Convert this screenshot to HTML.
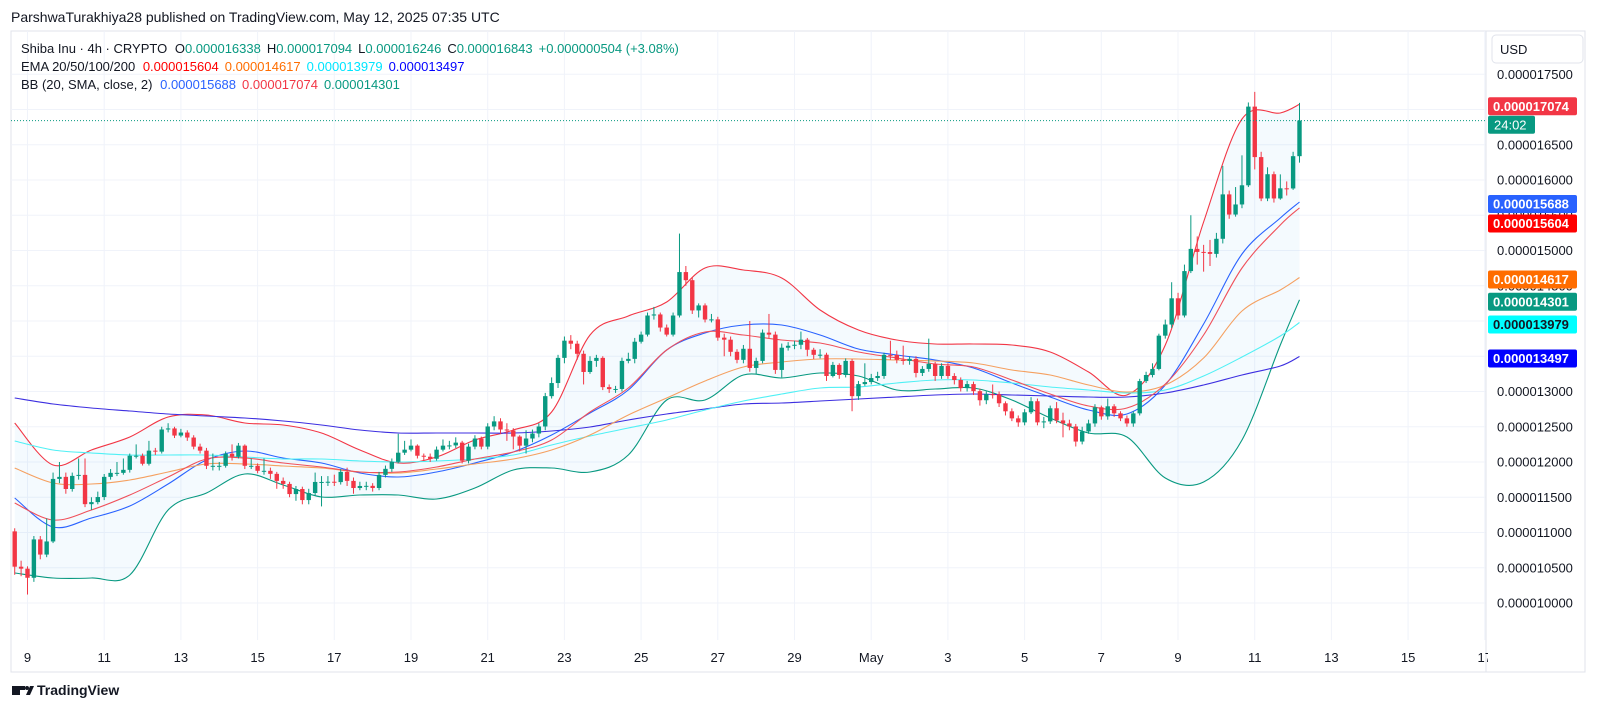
<!DOCTYPE html>
<html><head><meta charset="utf-8"><style>
html,body{margin:0;padding:0;background:#fff;}
svg{display:block;font-family:"Liberation Sans",Arial,sans-serif;}
</style></head><body>
<svg id="chart" width="1600" height="712" viewBox="0 0 1600 712" xmlns="http://www.w3.org/2000/svg">
<text x="11" y="22" font-size="14" fill="#131722">ParshwaTurakhiya28 published on TradingView.com, May 12, 2025 07:35 UTC</text>
<rect x="11" y="31" width="1574" height="641" fill="none" stroke="#e0e3eb" stroke-width="1"/>
<g id="grid"></g>
<g id="plot" clip-path="url(#clip)"></g>
<defs><clipPath id="clip"><rect x="11" y="31" width="1475" height="609"/></clipPath>
<clipPath id="xclip"><rect x="11" y="640" width="1477" height="32"/></clipPath></defs>
<line x1="1486" y1="31" x2="1486" y2="672" stroke="#e0e3eb"/>
<g id="yaxis"></g>
<g id="xaxis" clip-path="url(#xclip)"></g>
<g id="labels"></g>
<rect x="1492" y="35" width="91" height="28" rx="4" fill="#fff" stroke="#e0e3eb"/>
<text x="1500" y="54" font-size="13" fill="#131722">USD</text>
<g font-size="13">
<text x="21" y="53" fill="#131722">Shiba Inu · 4h · CRYPTO <tspan dx="4">O</tspan><tspan fill="#089981">0.000016338</tspan><tspan dx="6">H</tspan><tspan fill="#089981">0.000017094</tspan><tspan dx="6">L</tspan><tspan fill="#089981">0.000016246</tspan><tspan dx="6">C</tspan><tspan fill="#089981">0.000016843</tspan><tspan dx="6" fill="#089981">+0.000000504 (+3.08%)</tspan></text>
<text x="21" y="71" fill="#131722">EMA 20/50/100/200 <tspan dx="4" fill="#ff0000">0.000015604</tspan><tspan dx="6" fill="#ff6d00">0.000014617</tspan><tspan dx="6" fill="#00e5ff">0.000013979</tspan><tspan dx="6" fill="#0000ff">0.000013497</tspan></text>
<text x="21" y="89" fill="#131722">BB (20, SMA, close, 2) <tspan dx="4" fill="#2962ff">0.000015688</tspan><tspan dx="6" fill="#f23645">0.000017074</tspan><tspan dx="6" fill="#089981">0.000014301</tspan></text>
</g>
<g>
<rect x="12" y="686" width="8" height="9" fill="#131722"/><rect x="12" y="686" width="13" height="4" fill="#131722"/>
<circle cx="27" cy="688" r="2" fill="#131722"/><polygon points="26,695 30,686 34,686 30,695" fill="#131722"/>
<text x="37" y="695" font-size="14" font-weight="bold" fill="#131722">TradingView</text>
</g>
</svg>
<script>
const firstOpen = 11.016;
const closes = [10.515,10.487,10.358,10.902,10.687,10.873,11.760,11.789,11.617,11.803,11.817,11.402,11.431,11.503,11.789,11.846,11.846,11.889,12.089,12.089,11.975,12.161,12.147,12.461,12.476,12.375,12.418,12.347,12.218,12.161,11.946,11.946,11.946,12.118,12.075,12.232,11.946,11.946,11.875,11.875,11.832,11.732,11.689,11.545,11.617,11.460,11.560,11.717,11.717,11.720,11.715,11.860,11.732,11.631,11.660,11.662,11.631,11.817,11.903,12.003,12.132,12.175,12.232,12.089,12.075,12.046,12.175,12.232,12.235,12.275,12.018,12.218,12.333,12.218,12.504,12.576,12.461,12.447,12.361,12.232,12.333,12.404,12.504,12.934,13.120,13.477,13.721,13.678,13.535,13.277,13.434,13.477,13.062,13.034,13.036,13.434,13.463,13.706,13.807,14.078,14.093,13.907,13.807,14.078,14.694,14.579,14.150,14.221,14.021,14.023,13.764,13.735,13.563,13.449,13.606,13.334,13.434,13.835,13.807,13.306,13.621,13.649,13.663,13.735,13.592,13.520,13.522,13.220,13.377,13.234,13.434,12.934,13.105,13.134,13.191,13.220,13.520,13.518,13.449,13.434,13.463,13.263,13.320,13.392,13.220,13.363,13.220,13.163,13.048,13.105,13.005,12.876,12.962,12.960,12.833,12.719,12.619,12.562,12.705,12.862,12.562,12.576,12.762,12.590,12.547,12.504,12.290,12.433,12.547,12.776,12.647,12.790,12.690,12.619,12.547,12.690,13.148,13.234,13.320,13.792,13.950,14.322,14.078,14.708,15.023,14.980,14.978,14.952,15.166,15.796,15.510,15.653,15.925,17.041,16.325,15.738,16.082,15.738,15.882,15.880,16.338,16.843];
const highs = [11.06,10.60,10.52,10.95,10.95,11.20,11.85,12.00,11.85,11.85,12.05,12.05,11.50,11.58,11.83,11.90,12.00,12.05,12.12,12.25,12.12,12.30,12.20,12.50,12.55,12.50,12.47,12.45,12.38,12.26,12.20,12.12,12.00,12.15,12.25,12.27,12.25,12.05,11.98,12.05,11.92,11.86,11.78,11.72,11.66,11.65,11.62,11.85,11.80,11.80,11.82,11.90,11.92,11.78,11.72,11.72,11.70,11.86,11.95,12.05,12.40,12.30,12.32,12.25,12.12,12.12,12.22,12.32,12.30,12.35,12.30,12.26,12.38,12.36,12.55,12.65,12.62,12.55,12.48,12.38,12.45,12.46,12.55,12.98,13.20,13.52,13.78,13.80,13.72,13.58,13.50,13.52,13.50,13.10,13.08,13.48,13.55,13.76,13.85,14.12,14.20,14.12,13.95,14.12,15.24,14.78,14.62,14.25,14.25,14.10,14.06,13.82,13.78,13.60,13.66,14.00,13.48,13.88,14.10,13.85,13.68,13.70,13.72,13.85,13.76,13.62,13.60,13.55,13.42,13.40,13.47,13.46,13.15,13.40,13.25,13.28,13.55,13.72,13.58,13.65,13.50,13.50,13.36,13.75,13.42,13.40,13.40,13.26,13.20,13.15,13.14,13.04,13.00,13.10,13.00,12.86,12.76,12.66,12.75,12.92,12.90,12.64,12.80,12.85,12.70,12.60,12.54,12.50,12.60,12.82,12.80,12.90,12.82,12.72,12.66,12.72,13.18,13.28,13.40,13.82,14.02,14.55,14.40,14.80,15.50,15.20,15.08,15.15,15.25,16.20,15.85,15.90,16.35,17.10,17.25,16.40,16.18,16.12,16.08,15.98,16.40,17.094];
const lows = [10.40,10.38,10.12,10.30,10.62,10.65,10.85,11.70,11.55,11.58,11.75,11.36,11.32,11.40,11.46,11.75,11.80,11.82,11.85,12.05,11.95,11.95,12.10,12.12,12.42,12.34,12.35,12.30,12.18,12.12,11.90,11.88,11.88,11.92,12.02,12.05,11.90,11.90,11.84,11.82,11.76,11.62,11.62,11.50,11.45,11.40,11.40,11.52,11.37,11.66,11.66,11.68,11.66,11.55,11.60,11.60,11.58,11.60,11.78,11.86,11.98,12.10,12.15,12.05,12.02,12.00,12.02,12.15,12.18,12.20,11.98,11.98,12.18,12.18,12.18,12.45,12.40,12.30,12.18,12.15,12.12,12.28,12.35,12.45,12.90,13.05,13.40,13.60,13.45,13.10,13.25,13.35,13.02,12.98,12.98,13.00,13.40,13.40,13.68,13.78,14.02,13.85,13.78,13.78,14.05,14.50,14.10,14.05,13.98,13.98,13.72,13.50,13.50,13.40,13.40,13.28,13.25,13.40,13.76,13.25,13.20,13.58,13.60,13.60,13.50,13.46,13.47,13.15,13.20,13.18,13.20,12.72,12.88,13.08,13.10,13.15,13.18,13.45,13.40,13.38,13.38,13.20,13.22,13.28,13.15,13.18,13.18,13.10,13.00,13.00,12.95,12.80,12.82,12.90,12.78,12.66,12.58,12.50,12.52,12.68,12.52,12.48,12.54,12.55,12.35,12.45,12.22,12.25,12.40,12.50,12.60,12.60,12.64,12.58,12.50,12.50,12.66,13.12,13.20,13.30,13.75,13.90,14.02,14.05,14.68,14.80,14.70,14.78,14.90,15.10,15.45,15.48,15.60,15.90,16.15,15.70,15.70,15.68,15.72,15.78,15.86,16.246];
const bbUpper = [12.553,11.957,12.170,12.355,12.638,12.667,12.553,12.525,12.411,12.170,11.986,12.071,12.312,12.454,12.709,13.801,14.071,14.269,14.752,14.723,14.610,14.156,13.872,13.730,13.674,13.674,13.659,13.560,13.277,12.950,13.659,15.404,16.865,16.950,17.074];
const bbBasis = [11.489,11.078,11.206,11.376,11.688,12.028,12.156,12.057,11.986,11.844,11.787,11.858,11.986,12.142,12.383,12.695,13.021,13.589,13.830,13.943,13.943,13.801,13.603,13.518,13.447,13.333,13.121,12.922,12.738,12.681,13.092,13.957,14.950,15.461,15.688];
const bbLower = [10.426,10.355,10.355,10.397,11.319,11.560,11.830,11.674,11.504,11.532,11.532,11.475,11.631,11.886,11.915,11.858,12.099,12.879,12.879,13.234,13.192,13.262,13.220,13.021,13.035,13.050,12.879,12.624,12.411,12.355,11.773,11.716,12.312,13.660,14.301];
const ema20 = [11.418,11.177,11.319,11.532,11.787,12.043,12.057,11.986,11.929,11.858,11.858,11.929,12.043,12.142,12.312,12.709,13.050,13.589,13.844,13.801,13.730,13.688,13.560,13.475,13.390,13.347,13.163,12.964,12.794,12.766,13.106,13.801,14.752,15.362,15.604];
const ema50 = [11.915,11.702,11.688,11.745,11.858,11.972,11.972,11.943,11.915,11.858,11.844,11.901,11.972,12.043,12.170,12.383,12.667,12.908,13.149,13.347,13.418,13.461,13.461,13.447,13.433,13.404,13.305,13.234,13.092,12.993,13.092,13.475,14.142,14.440,14.617];
const ema100 = [12.298,12.170,12.128,12.099,12.099,12.099,12.071,12.043,12.043,12.014,12.000,12.014,12.043,12.099,12.241,12.369,12.482,12.596,12.738,12.865,12.964,13.050,13.064,13.121,13.163,13.163,13.121,13.064,13.021,12.979,13.021,13.220,13.489,13.787,13.979];
const ema200 = [12.908,12.823,12.766,12.723,12.681,12.652,12.624,12.582,12.525,12.454,12.411,12.411,12.411,12.411,12.440,12.496,12.596,12.681,12.752,12.823,12.837,12.865,12.894,12.922,12.950,12.964,12.950,12.936,12.922,12.922,12.979,13.092,13.234,13.362,13.497];
const priceTicks = [10,10.5,11,11.5,12,12.5,13,13.5,14,14.5,15,15.5,16,16.5,17,17.5];
const dayOffsets = [0,2,4,6,8,10,12,14,16,18,20,22,24,26,28,30,32,34,36,38];
const dayLabels = ["9","11","13","15","17","19","21","23","25","27","29","May","3","5","7","9","11","13","15","17"];

const NS="http://www.w3.org/2000/svg";
const N=closes.length;
function yOf(p){return 603-(p-10)*70.5;}
function xOfCandle(i){return 1299.5-(N-1-i)*6.392;}
function xOfDay(d){return xOfCandle(2)+d*38.35;}
function mk(tag,attrs,parent){const e=document.createElementNS(NS,tag);for(const k in attrs)e.setAttribute(k,attrs[k]);parent.appendChild(e);return e;}
const grid=document.getElementById('grid'),plot=document.getElementById('plot'),yaxis=document.getElementById('yaxis'),xaxis=document.getElementById('xaxis'),labels=document.getElementById('labels');

priceTicks.forEach(p=>{
  const y=yOf(p);
  const g=mk('line',{x1:11,x2:1486,y1:y,y2:y,stroke:'#f0f3fa'},grid);
  
  
  const t=mk('text',{x:1497,y:y+4.5,'font-size':13,fill:'#131722'},yaxis);
  
  
  t.textContent=(p/1e6).toFixed(9);
});
dayOffsets.forEach((d,k)=>{
  const x=xOfDay(d);
  if(x>1492)return;
  if(x<1486){
    const g=mk('line',{x1:x,x2:x,y1:31,y2:640,stroke:'#f0f3fa'},grid);
    
    
  }
  const t=mk('text',{x:x,y:662,'font-size':13,fill:'#131722','text-anchor':'middle'},xaxis);
  
  
  t.textContent=dayLabels[k];
});

function sampleX(k,len){return k<len-1?xOfCandle(k*6):xOfCandle(N-1);}
function pointList(arr){return arr.map((v,k)=>[sampleX(k,arr.length),yOf(v)]);}
function smoothPath(P,move){
  let d=(move?'M':'L')+P[0][0].toFixed(1)+','+P[0][1].toFixed(1);
  for(let i=0;i<P.length-1;i++){
    const p0=P[Math.max(0,i-1)],p1=P[i],p2=P[i+1],p3=P[Math.min(P.length-1,i+2)];
    const c1=[p1[0]+(p2[0]-p0[0])/6,p1[1]+(p2[1]-p0[1])/6];
    const c2=[p2[0]-(p3[0]-p1[0])/6,p2[1]-(p3[1]-p1[1])/6];
    d+='C'+c1[0].toFixed(1)+','+c1[1].toFixed(1)+' '+c2[0].toFixed(1)+','+c2[1].toFixed(1)+' '+p2[0].toFixed(1)+','+p2[1].toFixed(1);
  }
  return d;
}
const up=pointList(bbUpper),dn=pointList(bbLower).reverse();
const fill=mk('path',{d:smoothPath(up,true)+smoothPath(dn,false)+'Z',fill:'rgba(33,150,243,0.05)'},plot);


const series=[[bbUpper,'#f23645','bb-upper'],[bbLower,'#089981','bb-lower'],[bbBasis,'#2962ff','bb-basis'],[ema200,'#3c2ee0','ema-200'],[ema100,'#4ff0f5','ema-100'],[ema50,'#f5a060','ema-50'],[ema20,'#f0505a','ema-20']];
series.forEach(s=>{
  const l=mk('path',{d:smoothPath(pointList(s[0]),true),fill:'none',stroke:s[1],'stroke-width':1.1},plot);
  
  
});
for(let i=0;i<N;i++){
  const o=i===0?firstOpen:closes[i-1],c=closes[i];
  const col=c>=o?'#089981':'#f23645';
  const x=xOfCandle(i);
  const h=highs[i]!==undefined?highs[i]:Math.max(o,c),lo=lows[i]!==undefined?lows[i]:Math.min(o,c);
  const w=mk('line',{x1:x,x2:x,y1:Math.min(yOf(h),yOf(Math.max(o,c))),y2:Math.max(yOf(lo),yOf(Math.min(o,c))),stroke:col,'stroke-width':1},plot);
  
  
  const top=yOf(Math.max(o,c)),bh=Math.max(1,yOf(Math.min(o,c))-top);
  const b=mk('rect',{x:x-2.2,y:top,width:4.4,height:bh,fill:col},plot);
  
  
}
const lastY=yOf(closes[N-1]);
const pl=mk('line',{x1:11,x2:1486,y1:lastY,y2:lastY,stroke:'#089981','stroke-dasharray':'1,2'},plot);



const tagVals=[17.074,15.688,15.604,14.617,14.301,13.979,13.497];
const tagCols=['#f23645','#2962ff','#ff0000','#ff6d00','#089981','#00ffff','#0000ff'];
const tagText=['#fff','#fff','#fff','#fff','#fff','#131722','#fff'];
let prev=-100;
tagVals.forEach((v,k)=>{
  let y=yOf(v)+2;
  if(y<prev+19.5)y=prev+19.5;
  prev=y;
  const r=mk('rect',{x:1488,y:y-9,width:89,height:18,rx:2,fill:tagCols[k]},labels);
  
  
  const t=mk('text',{x:1493,y:y+4.5,'font-size':13,fill:tagText[k],'font-weight':'bold'},labels);
  
  
  t.textContent=(v/1e6).toFixed(9);
  if(k===0){
    const r2=mk('rect',{x:1488,y:y+9.5,width:47,height:18,rx:2,fill:'#089981'},labels);
    
    
    const t2=mk('text',{x:1494,y:y+23,'font-size':13,fill:'#fff'},labels);
    
    
    t2.textContent='24:02';
    prev=y+19;
  }
});
</script>
</body></html>
